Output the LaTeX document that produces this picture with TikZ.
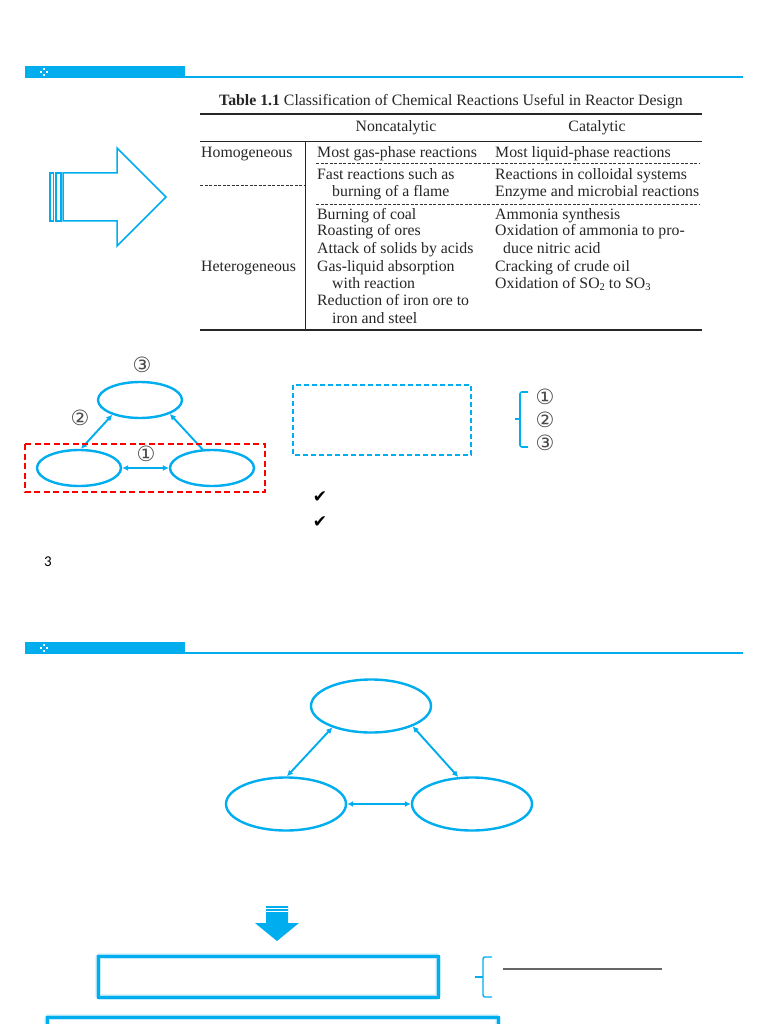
\documentclass[tikz,border=0pt]{standalone}
\usepackage{fontspec}
\setmainfont{Liberation Serif}
\newfontfamily\djv{DejaVu Sans}
\newfontfamily\clb{Carlito}
\usetikzlibrary{shapes.geometric,arrows.meta}
\definecolor{cy}{RGB}{0,174,239}
\newcommand{\sbs}[1]{\raisebox{-2.5pt}{\fontsize{10.5}{10.5}\selectfont #1}}
\begin{document}
\begin{tikzpicture}[x=1pt,y=-1pt,
  tt/.style={anchor=base west,inner sep=0pt,font=\fontsize{15.8}{17}\selectfont,text=black!85},
  th/.style={anchor=base,inner sep=0pt,font=\fontsize{15.8}{17}\selectfont,text=black!85},
  ell/.style={draw=cy,ellipse,line width=2.4pt,inner sep=0pt},
  con/.style={draw=cy,line width=1.9pt,{Latex[length=6pt,width=6pt]}-{Latex[length=6pt,width=6pt]}},
  conr/.style={draw=cy,line width=1.9pt,-{Latex[length=6pt,width=6pt]}},
  circ/.style={font=\djv\fontsize{21}{21}\selectfont,text=black!70,inner sep=0pt},
  chk/.style={font=\djv\fontsize{17}{17}\selectfont,inner sep=0pt},
  rule/.style={draw=black!85},
  dsh/.style={draw=black!80,line width=0.6pt,dash pattern=on 3pt off 1.5pt}]
\useasboundingbox (0,0) rectangle (768,1024);
\fill[white] (0,0) rectangle (768,1024);

% ---- header bar 1
\fill[cy] (25,66) rectangle (185,78);
\draw[cy,line width=1.8pt] (185,77) -- (743,77);
\foreach \dx/\dy in {0/-3,0/3,-3/0,3/0}{\fill[white] ({44+\dx-1.3},{72+\dy-1.3}) rectangle ++(2.6,2.6);}

% ---- outline arrow
\draw[cy,line width=1.5pt] (63,173) -- (117,173) -- (117,148) -- (166,197) -- (117,246) -- (117,221) -- (63,221) -- cycle;
\draw[cy,line width=1.2pt] (50,173) rectangle (53.5,221);
\draw[cy,line width=1.2pt] (56,173) rectangle (61,221);

% ---- table
\node[th] (title) at (451,106) {\textbf{Table 1.1} Classification of Chemical Reactions Useful in Reactor Design};
\draw[rule,line width=1.3pt] (200,114) -- (702,114);
\draw[rule,line width=0.9pt] (200,141) -- (702,141);
\draw[rule,line width=1.3pt] (200,330) -- (702,330);
\draw[rule,line width=0.9pt] (305,141) -- (305,330);
\draw[dsh] (316,163) -- (700,163);
\draw[dsh] (200,185) -- (305,185);
\draw[dsh] (316,204) -- (700,204);
\node[th] (hnc) at (396,132) {Noncatalytic};
\node[th] (hc) at (597,132) {Catalytic};
\node[tt] (homo) at (201,158) {Homogeneous};
\node[tt] (hetero) at (201,271) {Heterogeneous};
\node[tt] (a1) at (317,158) {Most gas-phase reactions};
\node[tt] (a2) at (317,180) {Fast reactions such as};
\node[tt] (a3) at (332,197) {burning of a flame};
\node[tt] (a4) at (317,219) {Burning of coal};
\node[tt] (a5) at (317,236) {Roasting of ores};
\node[tt] (a6) at (317,253) {Attack of solids by acids};
\node[tt] (a7) at (317,271) {Gas-liquid absorption};
\node[tt] (a8) at (332,288) {with reaction};
\node[tt] (a9) at (317,305) {Reduction of iron ore to};
\node[tt] (a10) at (332,323) {iron and steel};
\node[tt] (b1) at (495,158) {Most liquid-phase reactions};
\node[tt] (b2) at (495,180) {Reactions in colloidal systems};
\node[tt] (b3) at (495,197) {Enzyme and microbial reactions};
\node[tt] (b4) at (495,219) {Ammonia synthesis};
\node[tt] (b5) at (495,236) {Oxidation of ammonia to pro-};
\node[tt] (b6) at (503,253) {duce nitric acid};
\node[tt] (b7) at (495,271) {Cracking of crude oil};
\node[tt] (b8) at (495,288) {Oxidation of SO\sbs{2} to SO\sbs{3}};

% ---- diagram 1
\node[ell,minimum width=84pt,minimum height=36pt] (t1) at (140,400) {};
\node[ell,minimum width=84pt,minimum height=36pt] (l1) at (79,468) {};
\node[ell,minimum width=84pt,minimum height=36pt] (r1) at (212,468) {};
\draw[con] (l1.84) -- (t1.208);
\draw[conr] (r1.117) -- (t1.335);
\draw[con] (l1) -- (r1);
\draw[red,line width=1.8pt,dash pattern=on 6pt off 3.5pt] (25,444) rectangle (265,492);
\node[circ] (c3) at (142,365) {③};
\node[circ] (c2) at (80,418) {②};
\node[circ] (c1) at (146,454) {①};

\draw[cy,line width=1.3pt,dash pattern=on 5pt off 3pt] (293,385) rectangle (471,455);
\draw[cy,line width=1.6pt,rounded corners=2pt] (528,392) -- (520,392) -- (520,447) -- (528,447);
\draw[cy,line width=1.6pt] (520,419) -- (515,419);
\node[circ] (d1) at (545,397) {①};
\node[circ] (d2) at (545,420) {②};
\node[circ] (d3) at (545,443) {③};
\node[chk] (k1) at (320,497) {✔};
\node[chk] (k2) at (320,522) {✔};
\node[font=\clb\fontsize{15}{15}\selectfont,inner sep=0pt] (pg) at (48,562) {3};

% ---- header bar 2
\fill[cy] (25,642) rectangle (185,654);
\draw[cy,line width=1.8pt] (185,653) -- (743,653);
\foreach \dx/\dy in {0/-3,0/3,-3/0,3/0}{\fill[white] ({44+\dx-1.3},{648+\dy-1.3}) rectangle ++(2.6,2.6);}

% ---- diagram 2
\node[ell,minimum width=120pt,minimum height=53pt] (t2) at (371,706) {};
\node[ell,minimum width=120pt,minimum height=53pt] (l2) at (286,804) {};
\node[ell,minimum width=120pt,minimum height=53pt] (r2) at (472,804) {};
\draw[con] (t2.209) -- (l2.88);
\draw[con] (t2.334) -- (r2.117);
\draw[con] (l2) -- (r2);

% ---- down arrow
\fill[cy] (266,906) -- (288,906) -- (288,923) -- (299,923) -- (277,941) -- (255,923) -- (266,923) -- cycle;
\draw[white,line width=0.7pt] (266,908.5) -- (288,908.5) (266,911.5) -- (288,911.5);

% ---- boxes
\draw[cy!35,line width=5pt,rounded corners=1.5pt] (98,956) rectangle (438,997);
\draw[cy,line width=3pt] (98,956) rectangle (438,997);
\draw[cy!35,line width=5pt,rounded corners=1.5pt] (47,1017) rectangle (498,1040);
\draw[cy,line width=3pt] (47,1017) rectangle (498,1040);
\draw[cy,line width=1.4pt,rounded corners=2pt] (492,957) -- (483,957) -- (483,997) -- (492,997);
\draw[cy,line width=1.4pt] (483,977) -- (475,977);
\draw[black!60,line width=1.3pt] (503,969) -- (662,969);
\end{tikzpicture}
\end{document}
